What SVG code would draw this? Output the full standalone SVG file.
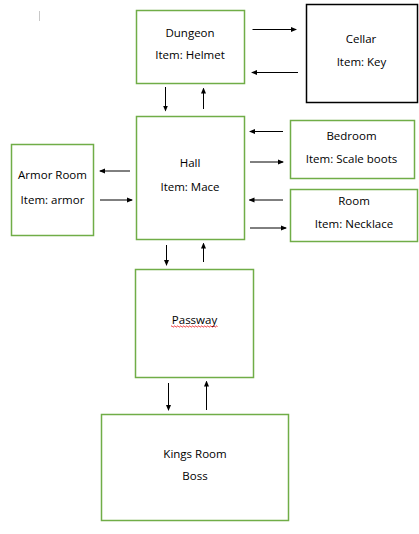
<svg xmlns="http://www.w3.org/2000/svg" width="419" height="534" viewBox="0 0 419 534">
<style>
.box{fill:#fff;stroke:#70AD47;stroke-width:1.5}
.boxk{fill:#fff;stroke:#000;stroke-width:1.5}
text{font-family:"Open Sans","Liberation Sans",sans-serif;font-size:11.5px;fill:#000;text-anchor:middle}
.c line{stroke:#000;stroke-width:1;marker-end:url(#ah)}
</style>
<defs>
<marker id="ah" viewBox="0 0 6 6" refX="5" refY="3" markerWidth="6" markerHeight="6" markerUnits="userSpaceOnUse" orient="auto">
<path d="M0,0.5 L6,3 L0,5.5 Z" fill="#000"/>
</marker>
</defs>
<rect width="419" height="534" fill="#fff"/>
<line x1="39.5" y1="11" x2="39.5" y2="21" stroke="#c8c8c8" stroke-width="1"/>
<g id="dungeon"><rect class="box" x="136.5" y="10.5" width="108" height="73"/><text x="190" y="37">Dungeon</text><text x="190" y="59">Item: Helmet</text></g>
<g id="cellar"><rect class="boxk" x="306.5" y="4.5" width="111" height="98"/><text x="361" y="43">Cellar</text><text x="361.5" y="66">Item: Key</text></g>
<g id="hall"><rect class="box" x="136.5" y="116.5" width="108" height="123"/><text x="190" y="167">Hall</text><text x="190" y="191">Item: Mace</text></g>
<g id="bedroom"><rect class="box" x="290.5" y="120.5" width="124" height="58"/><text x="351.5" y="139.5">Bedroom</text><text x="351.5" y="162.5">Item: Scale boots</text></g>
<g id="room"><rect class="box" x="290.5" y="189.5" width="127" height="52"/><text x="354" y="205">Room</text><text x="354" y="228">Item: Necklace</text></g>
<g id="armor"><rect class="box" x="11.5" y="144.5" width="82" height="91"/><text x="52.5" y="179">Armor Room</text><text x="52.5" y="203.5">Item: armor</text></g>
<g id="passway"><rect class="box" x="135.5" y="269.5" width="118" height="108"/><text x="194.5" y="324">Passway</text><path d="M171,326.5 q0.75,-1.2 1.5,0 t1.5,0 t1.5,0 t1.5,0 t1.5,0 t1.5,0 t1.5,0 t1.5,0 t1.5,0 t1.5,0 t1.5,0 t1.5,0 t1.5,0 t1.5,0 t1.5,0 t1.5,0 t1.5,0 t1.5,0 t1.5,0 t1.5,0 t1.5,0 t1.5,0 t1.5,0 t1.5,0 t1.5,0 t1.5,0 t1.5,0 t1.5,0 t1.5,0 t1.5,0 t1.5,0" fill="none" stroke="#e00" stroke-width="0.8"/></g>
<g id="kings"><rect class="box" x="101.5" y="414.5" width="187" height="106"/><text x="195" y="457.5">Kings Room</text><text x="195" y="480">Boss</text></g>
<g class="c" id="connectors">
<line x1="252.5" y1="29.5" x2="296" y2="29.5"/>
<line x1="298" y1="72.5" x2="252" y2="72.5"/>
<line x1="165.5" y1="87" x2="165.5" y2="110.5"/>
<line x1="203.5" y1="109" x2="203.5" y2="88.5"/>
<line x1="283" y1="131.5" x2="250" y2="131.5"/>
<line x1="250" y1="162" x2="283" y2="162"/>
<line x1="283" y1="200" x2="249.5" y2="200"/>
<line x1="250" y1="228" x2="286" y2="228"/>
<line x1="130" y1="171" x2="100" y2="171"/>
<line x1="100" y1="200" x2="132" y2="200"/>
<line x1="166.5" y1="245" x2="166.5" y2="265"/>
<line x1="203.5" y1="262" x2="203.5" y2="243.5"/>
<line x1="168.5" y1="383" x2="168.5" y2="410"/>
<line x1="206.5" y1="410" x2="206.5" y2="381.5"/>
</g>
</svg>
